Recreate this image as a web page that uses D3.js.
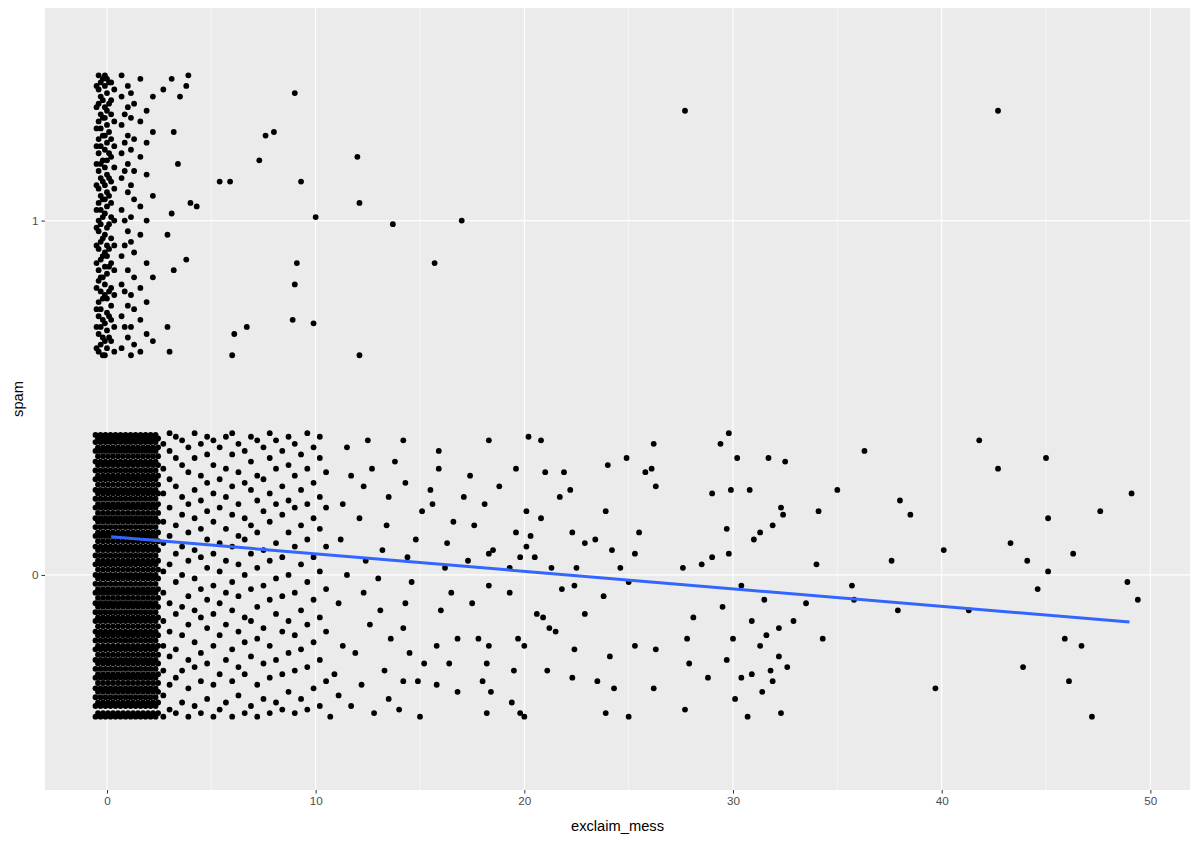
<!DOCTYPE html>
<html><head><meta charset="utf-8">
<script src="https://cdn.jsdelivr.net/npm/d3@7"></script>
<style>body{margin:0;background:#fff}</style></head>
<body><svg id="c" width="1198" height="843"></svg>
<script>
// ---- data ----
const xTicks = [0,10,20,30,40,50];
const yTicks = [0,1];
// dense columns (exclaim_mess 0..2) : x positions, two hand-read jitter lists
const denseX0 = [-0.55,-0.43,-0.31,-0.19,-0.07,0.05,0.17,0.29,0.41,0.53,0.65,0.77,0.89,1.01,1.13,1.25,1.37,1.49,1.61,1.73,1.85,1.97,2.09,2.21,2.33,2.45];
const yA = [-0.40,-0.37,-0.345,-0.32,-0.29,-0.265,-0.24,-0.21,-0.185,-0.16,-0.13,-0.105,-0.08,-0.05,-0.025,0.0,0.03,0.055,0.08,0.11,0.135,0.16,0.19,0.215,0.24,0.27,0.295,0.32,0.35,0.375,0.395];
const yB = [-0.39,-0.36,-0.33,-0.305,-0.28,-0.25,-0.225,-0.2,-0.17,-0.145,-0.12,-0.09,-0.065,-0.04,-0.01,0.015,0.04,0.07,0.095,0.12,0.15,0.175,0.2,0.23,0.255,0.28,0.31,0.335,0.36,0.385];
// moderate region spam = 0 : [x, ys]
const mid0 = [
 [2.7,[-0.4,-0.34,-0.27,-0.2,-0.13,-0.05,0.01,0.09,0.15,0.23,0.3,0.37]],
 [3.0,[-0.38,-0.31,-0.23,-0.16,-0.08,0.03,0.11,0.19,0.27,0.35,0.4]],
 [3.3,[-0.39,-0.29,-0.21,-0.11,-0.02,0.06,0.14,0.25,0.33,0.39]],
 [3.6,[-0.36,-0.27,-0.17,-0.09,0.0,0.08,0.17,0.22,0.31,0.38]],
 [3.9,[-0.4,-0.32,-0.24,-0.14,-0.06,0.04,0.12,0.2,0.29,0.36]],
 [4.2,[-0.37,-0.26,-0.19,-0.1,-0.01,0.07,0.16,0.24,0.33,0.4]],
 [4.5,[-0.39,-0.3,-0.22,-0.12,-0.04,0.05,0.13,0.21,0.28,0.37]],
 [4.8,[-0.35,-0.25,-0.15,-0.07,0.02,0.1,0.18,0.26,0.34,0.39]],
 [5.1,[-0.4,-0.31,-0.2,-0.11,-0.03,0.06,0.15,0.23,0.31,0.38]],
 [5.4,[-0.38,-0.28,-0.17,-0.08,0.01,0.09,0.19,0.27,0.36]],
 [5.7,[-0.36,-0.24,-0.14,-0.05,0.04,0.13,0.22,0.3,0.39]],
 [6.0,[-0.4,-0.3,-0.21,-0.1,-0.02,0.08,0.17,0.25,0.34,0.4]],
 [6.3,[-0.34,-0.26,-0.16,-0.06,0.03,0.11,0.2,0.29,0.37]],
 [6.6,[-0.39,-0.28,-0.19,-0.12,0.0,0.1,0.16,0.26,0.35]],
 [6.9,[-0.37,-0.23,-0.13,-0.04,0.06,0.14,0.24,0.32,0.39]],
 [7.2,[-0.4,-0.31,-0.18,-0.09,0.02,0.12,0.21,0.28,0.38]],
 [7.5,[-0.35,-0.25,-0.15,-0.03,0.07,0.18,0.27,0.36]],
 [7.8,[-0.39,-0.29,-0.2,-0.07,0.04,0.15,0.23,0.33,0.4]],
 [8.1,[-0.36,-0.24,-0.11,-0.01,0.09,0.2,0.3,0.38]],
 [8.4,[-0.38,-0.28,-0.16,-0.06,0.05,0.17,0.25,0.35]],
 [8.7,[-0.33,-0.22,-0.13,0.0,0.12,0.21,0.31,0.39]],
 [9.0,[-0.39,-0.27,-0.17,-0.05,0.08,0.19,0.28,0.37]],
 [9.3,[-0.35,-0.21,-0.1,0.03,0.14,0.24,0.34]],
 [9.6,[-0.38,-0.26,-0.14,-0.02,0.1,0.2,0.3,0.4]],
 [9.9,[-0.32,-0.19,-0.07,0.05,0.16,0.26,0.36]],
 [10.2,[-0.37,-0.24,-0.12,0.01,0.13,0.22,0.33,0.39]],
 [10.5,[-0.3,-0.16,-0.04,0.08,0.19,0.29]]
];
// scattered points spam = 0
const sparse0X = [49.1,47.6,45,45.1,43.3,44.1,44.6,45.1,46.3,48.9,49.4,45.9,46.7,46.1,43.9,47.2,41.8,42.7,40.1,41.3,39.7,38.5,38,37.6,37.9,36.3,35.7,35.8,35,34.1,34,33.5,34.3,32.5,31.7,32.3,32.4,31.9,31.3,30.2,29.8,29.4,29.9,30.8,31,29.7,29.8,29,29.5,30.4,31.5,30.9,31.6,32.2,32.9,31.3,32.2,31.8,32.6,31.9,30,29.7,30.9,31.4,30.4,30.1,30.7,32.3,27.7,28.8,27.8,27.9,28.1,29,28.5,27.6,26.2,26.1,26.3,25.8,24.9,25.5,25.3,24.6,25,24.2,23.9,24,23.4,22.9,22.3,22.5,23.8,22.9,26.3,25.3,24.1,23.5,24.3,23.9,25,26.2,22.3,22.4,21.5,21.2,20.9,21.8,22.4,21.3,20.1,20.3,20.5,21.7,21.9,22.2,21,20.8,20.2,19.6,20.1,20.8,19.6,19.8,19.3,19.3,20.6,19.7,20,19.5,19.8,20,19.4,21.1,18.2,18.4,18,18.2,17.8,18.3,17.5,18.3,17.3,18.3,18.5,17.6,18.1,18.8,18.3,17.4,17.1,16.6,16.3,16.2,16.5,16,16.8,16.4,16.8,15.8,15.8,15,14.9,15.2,15.6,15.9,15.9,15.5,15.1,14.8,14.4,14.6,14.3,14.2,14.5,14.2,14,14.3,14.2,13.8,13.5,13.4,13.2,13,13.1,13.6,13.3,13.5,12.8,12.5,12.7,12.3,12.1,12.4,12.3,12.6,11.9,12.2,11.7,11.5,11.7,11.3,11.2,11.5,11.1,11.3,10.9,11.1,10.7];
const sparse0Y = [0.23,0.18,0.33,0.16,0.09,0.04,-0.04,0.01,0.06,-0.02,-0.07,-0.18,-0.2,-0.3,-0.26,-0.4,0.38,0.3,0.07,-0.1,-0.32,0.17,0.21,0.04,-0.1,0.35,-0.03,-0.07,0.24,0.18,0.03,-0.08,-0.18,0.32,0.33,0.19,0.17,0.14,0.12,0.33,0.4,0.37,0.24,0.24,0.1,0.13,0.06,0.05,-0.09,-0.03,-0.07,-0.13,-0.17,-0.15,-0.13,-0.2,-0.23,-0.27,-0.26,-0.3,-0.18,-0.24,-0.28,-0.33,-0.29,-0.35,-0.4,-0.39,-0.38,-0.29,-0.18,-0.25,-0.12,0.23,0.03,0.02,0.37,0.3,0.25,0.29,0.33,0.12,0.06,0.02,-0.02,0.07,0.18,0.31,0.1,0.09,0.12,0.02,-0.06,-0.11,-0.21,-0.2,-0.23,-0.3,-0.32,-0.39,-0.4,-0.32,-0.29,-0.21,-0.16,-0.15,-0.12,-0.04,-0.03,0.02,0.08,0.11,0.05,0.22,0.29,0.24,0.29,0.38,0.39,0.3,0.18,0.16,0.12,0.05,0.02,-0.05,-0.11,-0.18,-0.2,-0.27,-0.39,-0.4,-0.36,-0.27,-0.39,-0.33,-0.3,-0.25,-0.18,-0.2,-0.08,-0.03,0.04,0.06,0.07,0.14,0.2,0.25,0.38,0.28,0.22,0.15,0.09,0.02,-0.05,-0.1,-0.18,-0.25,-0.33,-0.31,-0.2,-0.4,-0.3,-0.25,0.2,0.3,0.35,0.24,0.18,0.1,0.05,-0.02,-0.08,-0.15,-0.22,-0.3,-0.38,0.26,0.38,0.32,0.22,0.14,0.07,-0.01,-0.1,-0.18,-0.27,-0.35,-0.39,0.38,0.3,0.25,0.16,0.04,-0.05,-0.14,-0.22,-0.31,-0.37,0.36,0.28,0.2,0.1,0.0,-0.08,-0.2,-0.28,-0.34,-0.4];
// spam = 1 columns : [x, ys]
const cols1 = [
 [-0.5,[0.64,0.7,0.75,0.81,0.88,0.93,0.98,1.03,1.1,1.16,1.21,1.26,1.32,1.38]],
 [-0.4,[0.63,0.68,0.73,0.77,0.83,0.86,0.92,0.97,1.0,1.05,1.09,1.14,1.19,1.23,1.28,1.33,1.37,1.41]],
 [-0.3,[0.65,0.7,0.75,0.8,0.84,0.89,0.94,0.99,1.03,1.07,1.12,1.16,1.21,1.26,1.3,1.35,1.39]],
 [-0.2,[0.62,0.67,0.72,0.78,0.84,0.9,0.95,1.01,1.06,1.11,1.17,1.24,1.29,1.34,1.4]],
 [-0.1,[0.62,0.66,0.71,0.79,0.82,0.87,0.91,0.96,1.02,1.06,1.1,1.15,1.2,1.24,1.29,1.32,1.38,1.41]],
 [0.0,[0.64,0.69,0.74,0.78,0.85,0.9,0.93,0.98,1.04,1.08,1.13,1.17,1.22,1.27,1.31,1.36,1.4]],
 [0.1,[0.67,0.73,0.8,0.87,0.92,0.99,1.07,1.12,1.19,1.25,1.33,1.39]],
 [0.2,[0.66,0.72,0.76,0.81,0.88,0.95,1.01,1.05,1.11,1.18,1.23,1.3,1.34,1.39]],
 [0.35,[0.63,0.7,0.79,0.86,0.93,1.0,1.09,1.15,1.21,1.28,1.37]],
 [0.7,[0.64,0.73,0.82,0.9,1.03,1.12,1.19,1.27,1.35,1.41]],
 [0.85,[0.7,0.8,0.93,1.0,1.14,1.22,1.3]],
 [1.0,[0.67,0.76,0.86,0.97,1.08,1.16,1.24,1.32,1.38]],
 [1.15,[0.62,0.7,0.79,0.94,1.01,1.1,1.2,1.29,1.36]],
 [1.3,[0.65,0.75,0.84,0.91,1.06,1.14,1.23,1.33]],
 [1.6,[0.63,0.72,0.81,0.96,1.04,1.18,1.28,1.4]],
 [1.9,[0.68,0.77,0.88,1.0,1.13,1.22,1.31]],
 [2.2,[0.66,0.84,1.07,1.25,1.35]]
];
// scattered spam = 1
const sparse1X = [3.1,3.8,3.5,3.9,2.7,3.2,3.4,9,8,7.6,7.3,9.3,5.4,5.9,12,12.1,10,13.7,17,4,4.3,3.1,2.9,3.8,3.2,9.1,9,15.7,8.9,9.9,6.1,6.7,6,12.1,2.9,3,27.7,42.7];
const sparse1Y = [1.4,1.38,1.35,1.41,1.37,1.25,1.16,1.36,1.25,1.24,1.17,1.11,1.11,1.11,1.18,1.05,1.01,0.99,1.0,1.05,1.04,1.02,0.96,0.89,0.86,0.88,0.82,0.88,0.72,0.71,0.68,0.7,0.62,0.62,0.7,0.63,1.31,1.31];
// fitted line endpoints
const lineX = [0.2,49];
const lineY = [0.108,-0.133];

// ---- build ----
const pts = [];
denseX0.forEach((x,i)=>(i%2?yB:yA).forEach(y=>pts.push([x,y])));
mid0.forEach(([x,ys])=>ys.forEach(y=>pts.push([x,y])));
sparse0X.forEach((x,i)=>pts.push([x,sparse0Y[i]]));
cols1.forEach(([x,ys])=>ys.forEach(y=>pts.push([x,y])));
sparse1X.forEach((x,i)=>pts.push([x,sparse1Y[i]]));

const L=45,R=1190,T=8,B=790;
const x=d3.scaleLinear().domain([-2.97,51.9]).range([L,R]);
const y=d3.scaleLinear().domain([-0.607,1.60]).range([B,T]);
const svg=d3.select('#c');
svg.append('rect').attr('x',L).attr('y',T).attr('width',R-L).attr('height',B-T).attr('fill','#EBEBEB');
const g=svg.append('g');
[5,15,25,35,45].forEach(v=>g.append('line').attr('x1',x(v)).attr('x2',x(v)).attr('y1',T).attr('y2',B).attr('stroke','#fff').attr('stroke-width',0.55));
xTicks.forEach(v=>g.append('line').attr('x1',x(v)).attr('x2',x(v)).attr('y1',T).attr('y2',B).attr('stroke','#fff').attr('stroke-width',1.1));
yTicks.forEach(v=>g.append('line').attr('y1',y(v)).attr('y2',y(v)).attr('x1',L).attr('x2',R).attr('stroke','#fff').attr('stroke-width',1.1));

svg.append('g').selectAll('circle').data(pts).join('circle')
 .attr('cx',d=>x(d[0])).attr('cy',d=>y(d[1])).attr('r',2.9).attr('fill','#000');
svg.append('path').datum(lineX.map((v,i)=>[v,lineY[i]]))
 .attr('d',d3.line().x(d=>x(d[0])).y(d=>y(d[1]))).attr('stroke','#3366FF').attr('stroke-width',3).attr('fill','none');

const xa=svg.append('g').attr('transform',`translate(0,${B})`).call(d3.axisBottom(x).tickValues(xTicks).tickSize(3.6).tickPadding(3));
const ya=svg.append('g').attr('transform',`translate(${L},0)`).call(d3.axisLeft(y).tickValues(yTicks).tickFormat(d3.format('d')).tickSize(3.6).tickPadding(3));
[xa,ya].forEach(a=>{a.select('.domain').remove();a.selectAll('line').attr('stroke','#333');
 a.selectAll('text').attr('fill','#4D4D4D').style('font-family','Liberation Sans, Arial, sans-serif').style('font-size','11.7px');});
svg.append('text').attr('x',(L+R)/2).attr('y',831).attr('text-anchor','middle').style('font-family','Liberation Sans, Arial, sans-serif').style('font-size','14.7px').text('exclaim_mess');
svg.append('text').attr('transform',`translate(23,${(T+B)/2}) rotate(-90)`).attr('text-anchor','middle').style('font-family','Liberation Sans, Arial, sans-serif').style('font-size','14.7px').text('spam');
</script></body></html>
